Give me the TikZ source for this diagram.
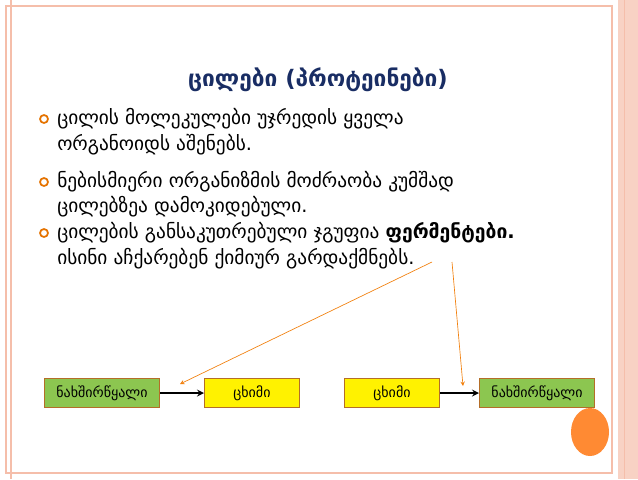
\documentclass[tikz,border=0pt]{standalone}
\usepackage{fontspec}
\newfontfamily\geo{DejaVu Sans}
\definecolor{gfill}{RGB}{140,198,80}
\definecolor{navy}{RGB}{25,45,100}
\definecolor{pinkl}{RGB}{245,190,170}
\definecolor{bord}{RGB}{180,110,40}
\tikzset{
 txt/.style={anchor=west,font=\geo\fontsize{14.5}{16}\selectfont,inner sep=0},
 bul/.style={circle,draw=orange!90!black,line width=1.3pt,minimum size=6pt,inner sep=0},
 gbox/.style={draw=bord,line width=1pt,fill=gfill,minimum width=86pt,minimum height=22pt,font=\geo\fontsize{10.5}{12}\selectfont},
 ybox/.style={draw=bord,line width=1pt,fill=yellow,minimum width=71pt,minimum height=22pt,font=\geo\fontsize{10.5}{12}\selectfont},
 blk/.style={->,>=stealth,line width=1.3pt},
 org/.style={->,>=stealth,draw=orange!80!brown,line width=0.5pt}
}
\begin{document}
\begin{tikzpicture}[x=0.75pt,y=-0.75pt]
\useasboundingbox (0,0) rectangle (638,479);
\fill[white] (0,0) rectangle (638,479);
\draw[pinkl,line width=0.8pt] (6,6) rectangle (612,473);
\draw[pinkl,line width=0.8pt] (11,0) -- (11,479);
\fill[pinkl!70] (618,0) rectangle (638,479);
\draw[pinkl] (624,0)--(624,479);
\node[text=navy,font=\geo\bfseries\fontsize{17}{19}\selectfont] (title) at (318,80) {ცილები (პროტეინები)};
\node[bul] (b1) at (44,119) {};
\node[txt] (t1) at (57,119) {ცილის მოლეკულები უჯრედის ყველა};
\node[txt] (t1b) at (57,145) {ორგანოიდს აშენებს.};
\node[bul] (b2) at (44,182) {};
\node[txt] (t2) at (57,182) {ნებისმიერი ორგანიზმის მოძრაობა კუმშად};
\node[txt] (t2b) at (57,207) {ცილებზეა დამოკიდებული.};
\node[bul] (b3) at (44,233) {};
\node[txt] (t3) at (57,233) {ცილების განსაკუთრებული ჯგუფია {\bfseries ფერმენტები.}};
\node[txt] (t3b) at (57,259) {ისინი აჩქარებენ ქიმიურ გარდაქმნებს.};
\fill[orange!85!red!80] (590,432) ellipse (19 and 24);
\node[gbox] (n1) at (102,393) {ნახშირწყალი};
\node[ybox] (n2) at (252,393) {ცხიმი};
\node[ybox] (n3) at (392,393) {ცხიმი};
\node[gbox] (n4) at (537,393) {ნახშირწყალი};
\draw[blk] (n1) -- (n2);
\draw[blk] (n3) -- (n4);
\coordinate (s1) at (432,262);
\coordinate (s2) at (452,262);
\coordinate (e1) at (180,384);
\coordinate (e2) at (463,386);
\draw[org] (s1) -- (e1);
\draw[org] (s2) -- (e2);
\end{tikzpicture}
\end{document}
